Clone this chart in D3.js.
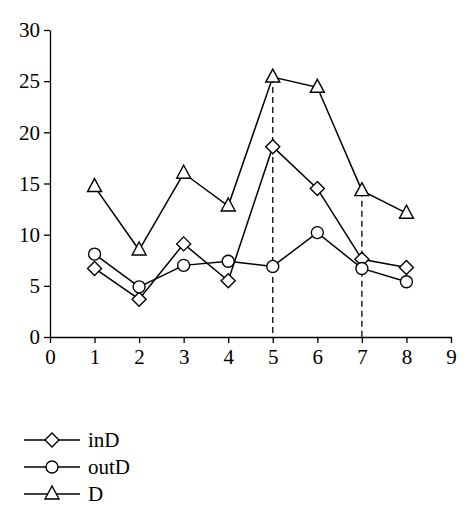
<!DOCTYPE html>
<html><head><meta charset="utf-8">
<script src="https://cdn.jsdelivr.net/npm/d3@7"></script>
<style>body{margin:0;background:#fff}</style></head>
<body><svg id="c" width="474" height="515"></svg>
<script>
const xs = [1, 2, 3, 4, 5, 6, 7, 8];
const inD = [6.7, 3.7, 9.1, 5.5, 18.6, 14.5, 7.6, 6.8];
const outD = [8.1, 4.9, 7.0, 7.4, 6.9, 10.2, 6.7, 5.4];
const D = [14.7, 8.5, 16.0, 12.8, 25.4, 24.4, 14.3, 12.1];
const xTicks = [0, 1, 2, 3, 4, 5, 6, 7, 8, 9];
const yTicks = [0, 5, 10, 15, 20, 25, 30];
const dashedAt = [5, 7];

const svg = d3.select("#c");
const font = "'Liberation Serif', serif";
const x = d3.scaleLinear().domain([0, 9]).range([50, 451]);
const y = d3.scaleLinear().domain([0, 30]).range([337, 30]);

svg.append("g").attr("transform", "translate(0,337)")
  .call(d3.axisBottom(x).tickValues(xTicks).tickSize(6).tickSizeOuter(0))
  .call(g => g.selectAll("text").style("font-family", font).style("font-size", "21px").attr("dy", "0.85em"));
svg.append("g").attr("transform", "translate(50,0)")
  .call(d3.axisLeft(y).tickValues(yTicks).tickSize(6).tickSizeOuter(0))
  .call(g => g.selectAll("text").style("font-family", font).style("font-size", "21px").attr("dx", "-0.05em"));
svg.selectAll(".domain, .tick line").attr("stroke", "#000").attr("stroke-width", 1.3);

// dashed drop lines
svg.selectAll(null).data(dashedAt).enter().append("line")
  .attr("x1", d => x(d)).attr("x2", d => x(d))
  .attr("y1", d => y(D[xs.indexOf(d)])).attr("y2", y(0))
  .attr("stroke", "#000").attr("stroke-width", 1.3).attr("stroke-dasharray", "6,4");

const line = d3.line().x((d, i) => x(xs[i])).y(d => y(d));
const series = [
  { name: "inD", vals: inD, shape: "diamond" },
  { name: "outD", vals: outD, shape: "circle" },
  { name: "D", vals: D, shape: "triangle" }
];
function marker(g, shape, cx, cy) {
  if (shape === "circle") g.append("circle").attr("cx", cx).attr("cy", cy).attr("r", 6);
  else if (shape === "diamond") g.append("path").attr("d", `M${cx},${cy-7}L${cx+7},${cy}L${cx},${cy+7}L${cx-7},${cy}Z`);
  else g.append("path").attr("d", `M${cx},${cy-8}L${cx+7},${cy+5}L${cx-7},${cy+5}Z`);
}
series.forEach(s => {
  svg.append("path").attr("d", line(s.vals)).attr("fill", "none").attr("stroke", "#000").attr("stroke-width", 1.5);
  const g = svg.append("g").attr("fill", "#fff").attr("stroke", "#000").attr("stroke-width", 1.4);
  s.vals.forEach((v, i) => marker(g, s.shape, x(xs[i]), y(v)));
});

// legend
series.forEach((s, i) => {
  const ly = 440 + i * 27;
  svg.append("line").attr("x1", 24).attr("x2", 80).attr("y1", ly).attr("y2", ly)
    .attr("stroke", "#000").attr("stroke-width", 1.5);
  const g = svg.append("g").attr("fill", "#fff").attr("stroke", "#000").attr("stroke-width", 1.4);
  marker(g, s.shape, 52, ly);
  svg.append("text").attr("x", 88).attr("y", ly + 7).text(s.name)
    .style("font-family", font).style("font-size", "21px");
});
</script></body></html>
